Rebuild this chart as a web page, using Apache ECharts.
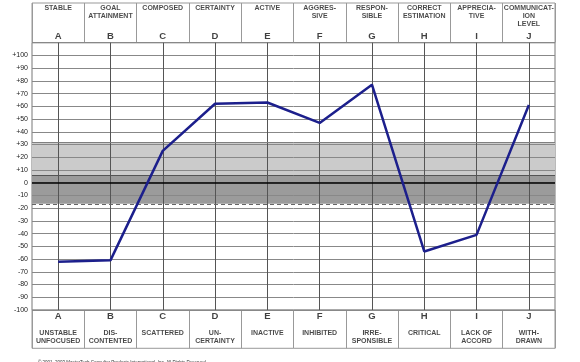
<!DOCTYPE html>
<html>
<head>
<meta charset="utf-8">
<script src="https://cdn.jsdelivr.net/npm/echarts@6/dist/echarts.min.js"></script>
<style>html,body{margin:0;padding:0;background:#fff;}#c{width:580px;height:362px;}</style>
</head>
<body>
<div id="c"></div>
<script>
const categories = ['A','B','C','D','E','F','G','H','I','J'];
const scores = [-62, -61, 25, 62, 63, 47, 77, -54, -41, 61];
const headerTitles = ['STABLE','GOAL\nATTAINMENT','COMPOSED','CERTAINTY','ACTIVE','AGGRES-\nSIVE','RESPON-\nSIBLE','CORRECT\nESTIMATION','APPRECIA-\nTIVE','COMMUNICAT-\nION\nLEVEL'];
const footerTitles = ['UNSTABLE\nUNFOCUSED','DIS-\nCONTENTED','SCATTERED','UN-\nCERTAINTY','INACTIVE','INHIBITED','IRRE-\nSPONSIBLE','CRITICAL','LACK OF\nACCORD','WITH-\nDRAWN'];
const lightBand = [6, 32];
const darkBand = [-16.5, 6];
const dashedLevel = -17.3;
const zeroLevel = 0;
const copyright = '\u00a9 2001, 2003 MasterTech Consulter Products International, Inc. All Rights Reserved.';

const font = 'Liberation Sans, Arial, sans-serif';
const chart = echarts.init(document.getElementById('c'), null, {renderer: 'canvas'});

function labelSeries(gridIdx, yVal, texts, fontSize, lh) {
  return {
    type: 'scatter', xAxisIndex: gridIdx, yAxisIndex: gridIdx,
    symbolSize: 0, silent: true, z: 10,
    data: categories.map(c => [c, yVal]),
    label: {
      show: true, position: 'bottom', distance: 0,
      formatter: p => texts[p.dataIndex],
      fontFamily: font, fontWeight: 'bold', fontSize: fontSize, lineHeight: lh,
      color: '#1a1a1a', align: 'center'
    }
  };
}
function letterSeries(gridIdx, yVal) {
  return {
    type: 'scatter', xAxisIndex: gridIdx, yAxisIndex: gridIdx,
    symbolSize: 0, silent: true, z: 10,
    data: categories.map(c => [c, yVal]),
    label: {
      show: true, position: 'inside',
      formatter: p => categories[p.dataIndex],
      fontFamily: font, fontWeight: 'bold', fontSize: 9.5,
      color: '#111'
    }
  };
}

const option = {
  backgroundColor: '#fff',
  animation: false,
  title: {
    text: copyright, left: 33, top: 355,
    textStyle: {fontSize: 4.5, fontWeight: 'normal', color: '#333', fontFamily: font}
  },
  grid: [
    {left: 32, right: 25, top: 42.7, height: 267.3, show: true, borderColor: '#777', borderWidth: 1},
    {left: 32, right: 25, top: 3, height: 39.7, show: true, borderColor: '#999', borderWidth: 1},
    {left: 32, right: 25, top: 310, height: 38.3, show: true, borderColor: '#999', borderWidth: 1}
  ],
  xAxis: [
    {gridIndex: 0, type: 'category', data: categories, boundaryGap: true,
     axisLine: {show: false}, axisTick: {show: false}, axisLabel: {show: false}, splitLine: {show: false}},
    {gridIndex: 1, type: 'category', data: categories, boundaryGap: true,
     axisLine: {show: false}, axisTick: {show: false}, axisLabel: {show: false},
     splitLine: {show: true, lineStyle: {color: '#999', width: 1}}},
    {gridIndex: 2, type: 'category', data: categories, boundaryGap: true,
     axisLine: {show: false}, axisTick: {show: false}, axisLabel: {show: false},
     splitLine: {show: true, lineStyle: {color: '#999', width: 1}}}
  ],
  yAxis: [
    {gridIndex: 0, type: 'value', min: -100, max: 110, interval: 10, z: 3,
     axisLine: {show: false}, axisTick: {show: false},
     axisLabel: {fontSize: 7, color: '#222', fontFamily: font, margin: 4,
       formatter: v => v === 110 ? '' : (v > 0 ? '+' + v : '' + v)},
     splitLine: {show: true, lineStyle: {color: '#888', width: 1}}},
    {gridIndex: 1, type: 'value', min: 0, max: 40, inverse: true, show: false},
    {gridIndex: 2, type: 'value', min: 0, max: 38, inverse: true, show: false}
  ],
  series: [
    {
      type: 'line', xAxisIndex: 0, yAxisIndex: 0, data: [], z: 1, silent: true,
      markArea: {
        silent: true,
        data: [
          [{yAxis: lightBand[0], itemStyle: {color: '#cbcbcb'}}, {yAxis: lightBand[1]}],
          [{yAxis: darkBand[0], itemStyle: {color: '#9b9b9b'}}, {yAxis: darkBand[1]}]
        ]
      }
    },
    {
      type: 'line', xAxisIndex: 0, yAxisIndex: 0, data: [], z: 4, silent: true,
      markLine: {
        silent: true, symbol: 'none', label: {show: false},
        data: [
          ...categories.map(c => ({xAxis: c, lineStyle: {color: '#555', width: 1, type: 'solid'}})),
          {yAxis: zeroLevel, lineStyle: {color: '#000', width: 1.5, type: 'solid'}},
          {yAxis: lightBand[1], lineStyle: {color: '#808080', width: 1, type: 'solid'}},
          {yAxis: darkBand[1], lineStyle: {color: '#555', width: 1, type: 'solid'}},
          {yAxis: dashedLevel, lineStyle: {color: '#666', width: 1.2, type: [4, 3]}}
        ]
      }
    },
    {
      type: 'line', xAxisIndex: 0, yAxisIndex: 0, data: scores, z: 6,
      symbol: 'none', smooth: false,
      lineStyle: {color: '#1c1f8c', width: 2.5}
    },
    labelSeries(1, 1.5, headerTitles, 7, 8),
    letterSeries(1, 34),
    letterSeries(2, 6.7),
    labelSeries(2, 18.7, footerTitles, 7, 8)
  ]
};
chart.setOption(option);
</script>
</body>
</html>
